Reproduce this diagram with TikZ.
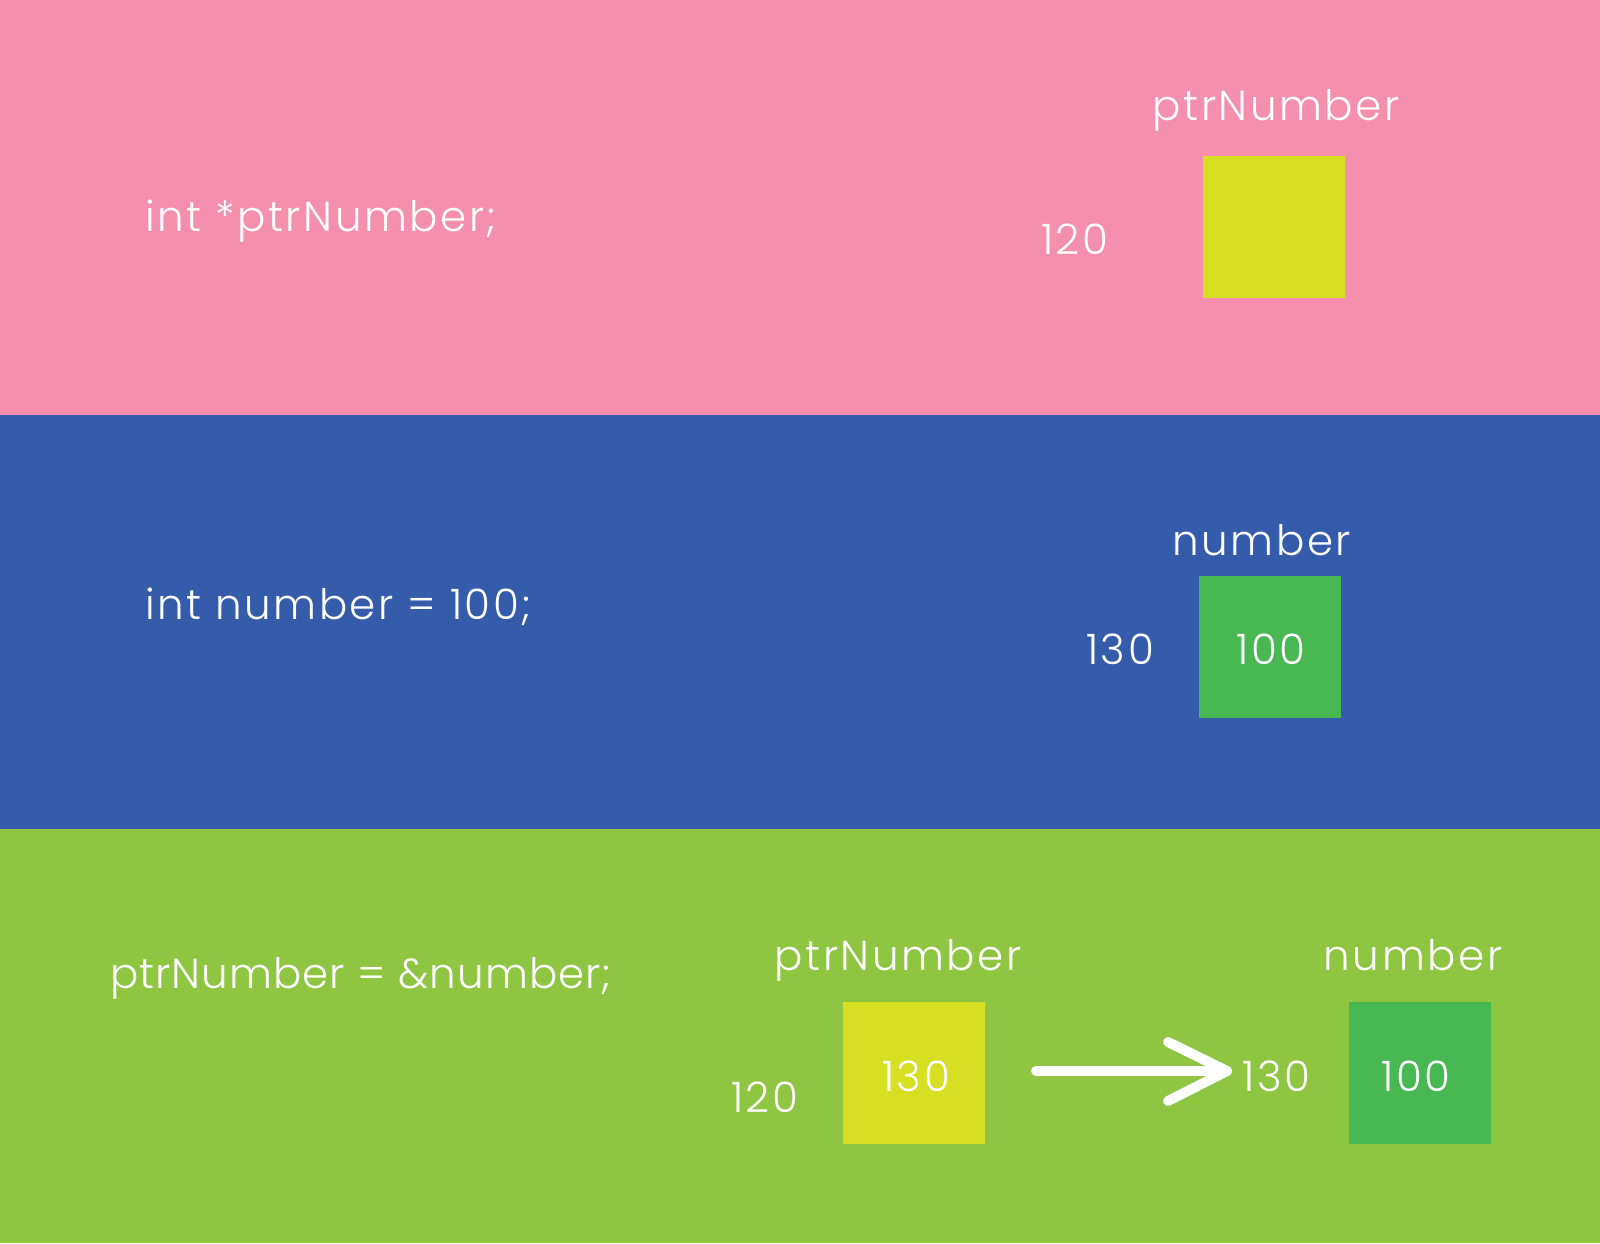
\documentclass[tikz,border=0pt]{standalone}
\usepackage{fontspec}
\setmainfont{Poppins}[UprightFont=* Light,LetterSpace=6]
\definecolor{pinkbg}{HTML}{F48FAD}
\definecolor{bluebg}{HTML}{355CAA}
\definecolor{greenbg}{HTML}{8FC641}
\definecolor{yelbox}{HTML}{D7DF22}
\definecolor{grnbox}{HTML}{48B853}
\begin{document}
\begin{tikzpicture}[x=1pt,y=-1pt,
  lbl/.style={text=white,font=\fontsize{42}{46}\selectfont,inner sep=0pt},
  box/.style={inner sep=0pt,minimum width=142pt,minimum height=142pt}]
\useasboundingbox (0,0) rectangle (1600,1243);
\fill[pinkbg] (0,0) rectangle (1600,415);
\fill[bluebg] (0,415) rectangle (1600,829);
\fill[greenbg] (0,829) rectangle (1600,1243);
% band 1
\node[lbl,anchor=base west] (c1) at (145,231) {int *ptrNumber;};
\node[box,fill=yelbox] (b1) at (1273.5,227) {};
\node[lbl,anchor=base] (n1) at (1276,120) {ptrNumber};
\node[lbl,anchor=base west] (a1) at (1041,254) {120};
% band 2
\node[lbl,anchor=base west] (c2) at (145,619) {int number = 100;};
\node[box,fill=grnbox] (b2) at (1270,647) {};
\node[lbl,anchor=base] (v2) at (1271,664) {100};
\node[lbl,anchor=base] (n2) at (1262,555) {number};
\node[lbl,anchor=base west] (a2) at (1086,664) {130};
% band 3
\node[lbl,anchor=base west] (c3) at (110,988) {\addfontfeature{LetterSpace=2.5}ptrNumber = \&number;};
\node[box,fill=yelbox] (b3) at (913.5,1072.5) {};
\node[lbl,anchor=base] (v3) at (916,1091) {130};
\node[lbl,anchor=base] (n3) at (898,970) {ptrNumber};
\node[lbl,anchor=base west] (a3) at (731,1112) {120};
\node[box,fill=grnbox] (b4) at (1420,1072.5) {};
\node[lbl,anchor=base] (v4) at (1416,1091) {100};
\node[lbl,anchor=base] (n4) at (1413,970) {number};
\node[lbl,anchor=base west] (a4) at (1242,1091) {130};
\coordinate (tail) at (1036,1071);
\coordinate (tip) at (1227,1071);
\draw[white,line width=10pt,line cap=round,line join=round] (tail) -- (tip);
\draw[white,line width=10pt,line cap=round,line join=round] (1168,1042) -- (tip) -- (1168,1101);
\end{tikzpicture}
\end{document}
